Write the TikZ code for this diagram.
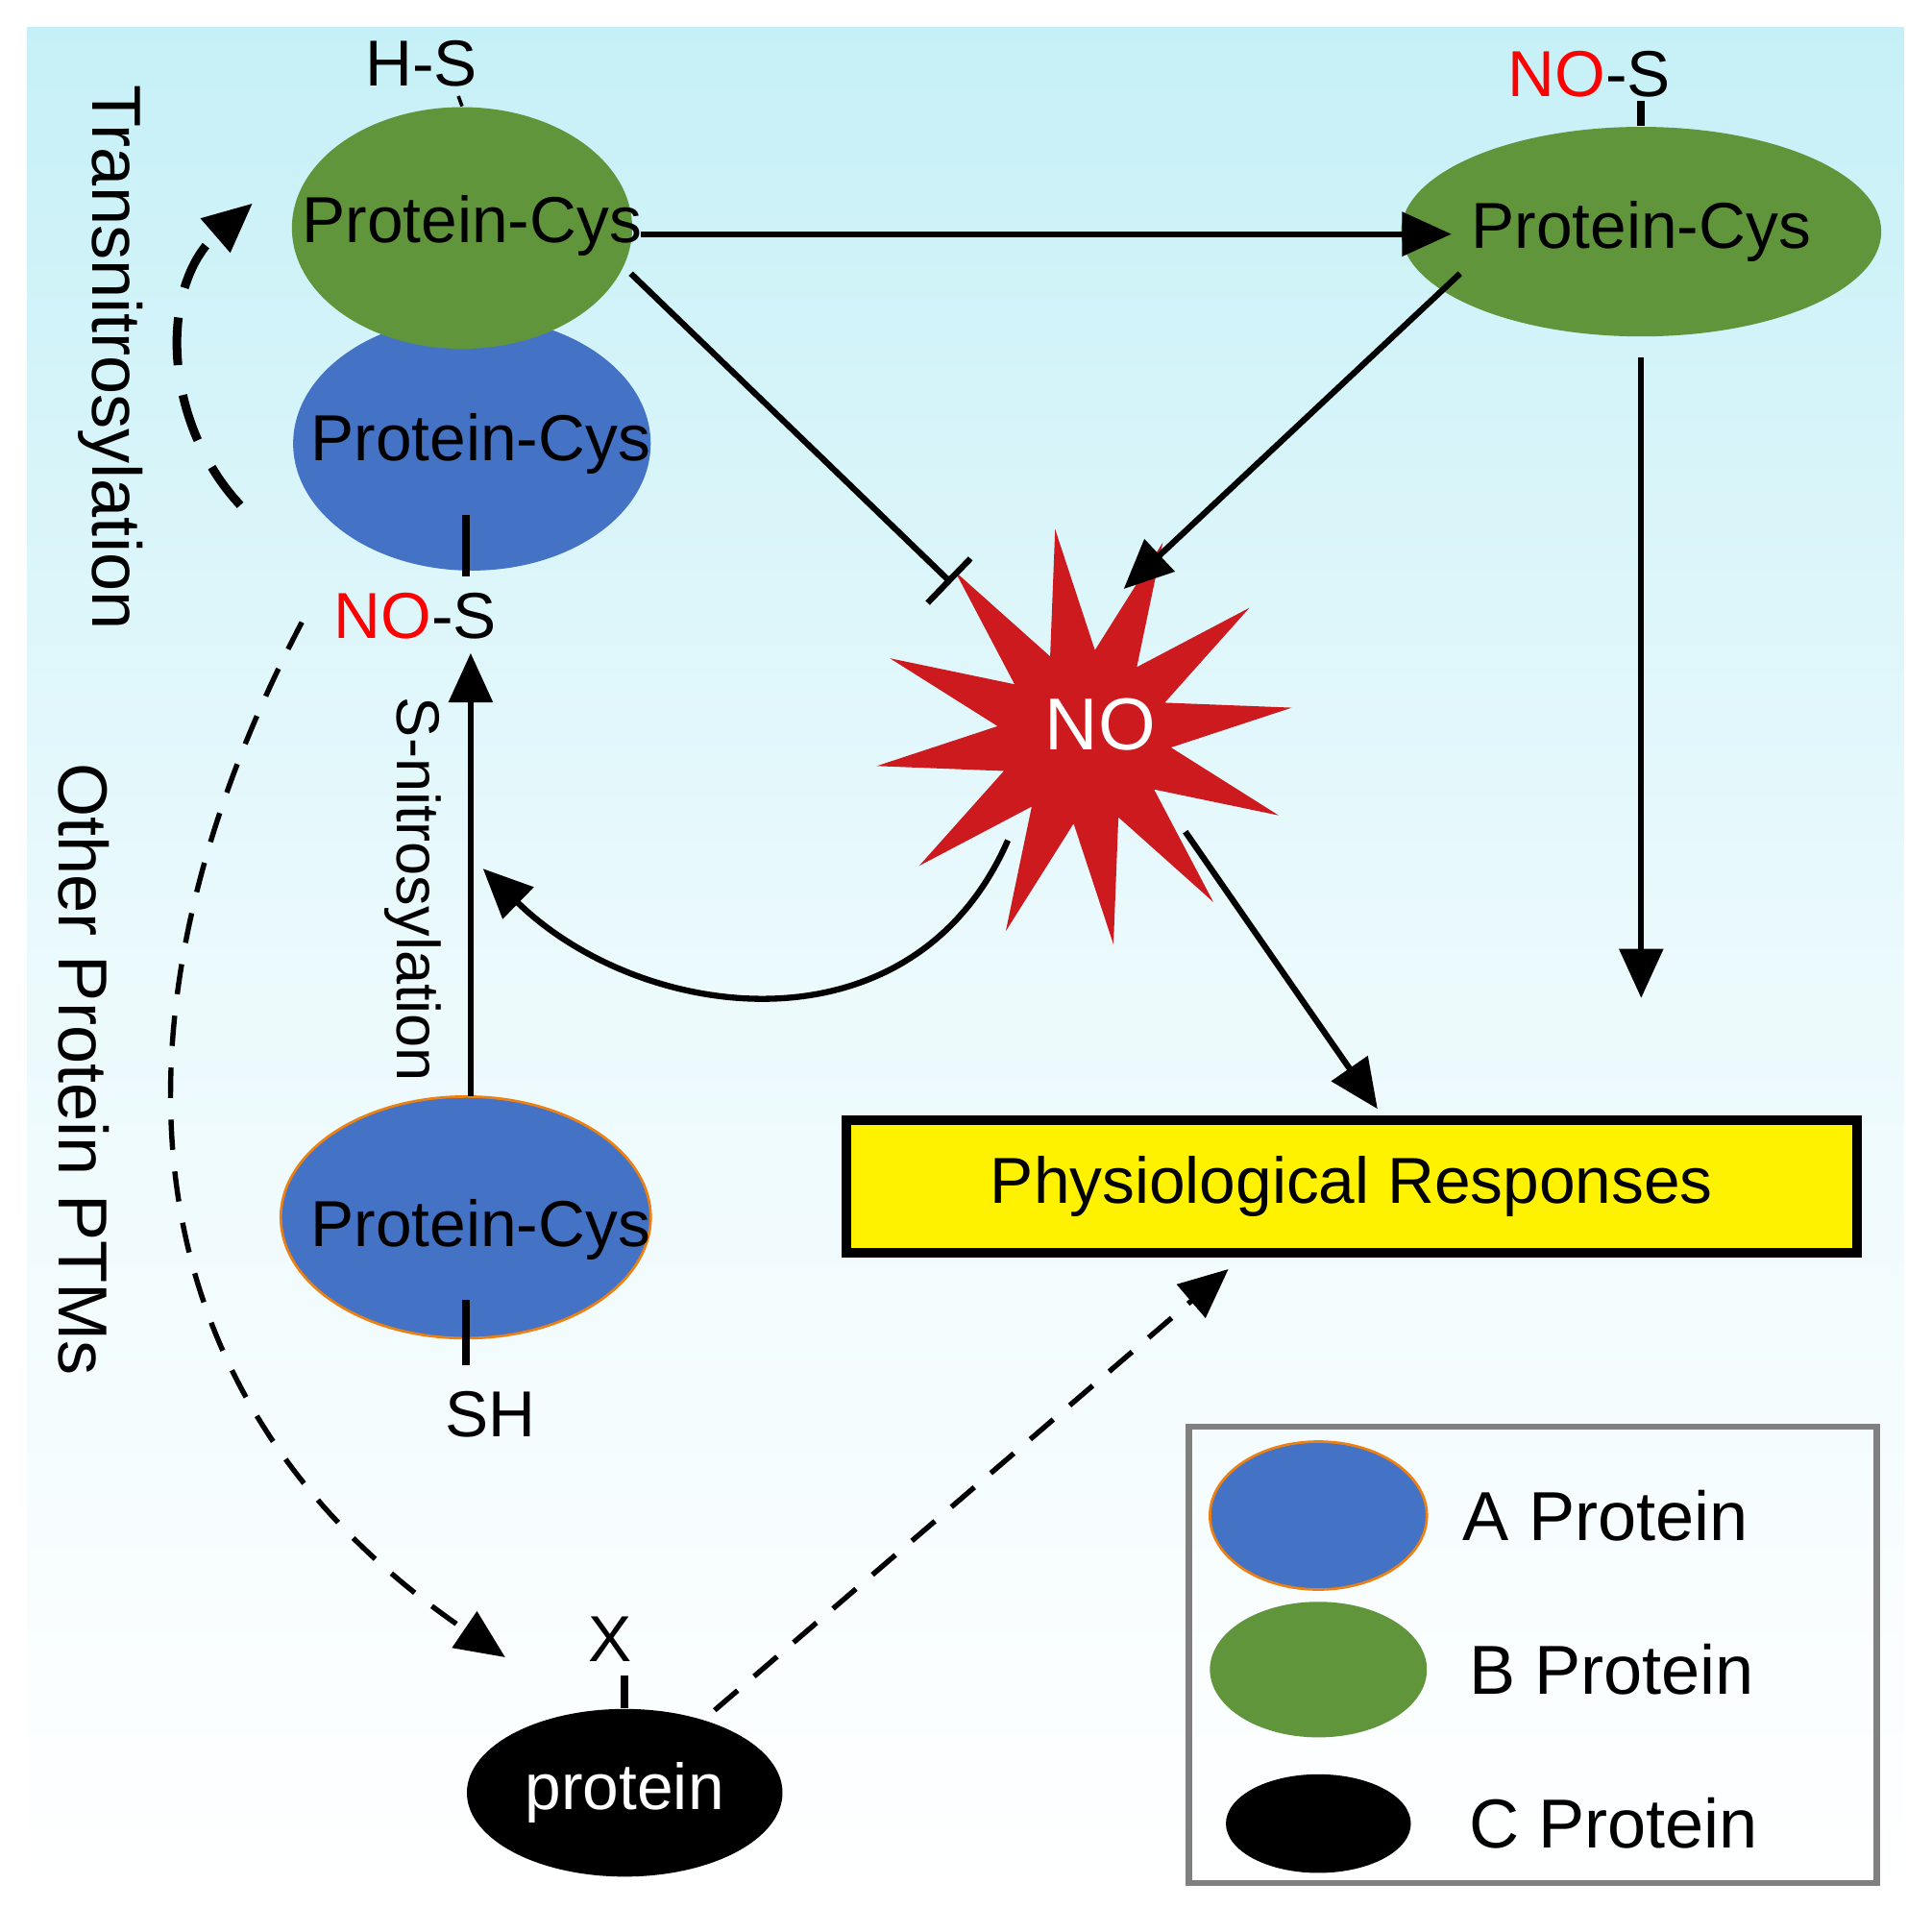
\documentclass[tikz,border=0pt]{standalone}
\usepackage{fontspec}
\setmainfont{Liberation Sans}
\usetikzlibrary{arrows.meta,shapes.geometric,calc}
\definecolor{pgreen}{HTML}{61953B}
\definecolor{pblue}{HTML}{4472C4}
\definecolor{nored}{HTML}{CC1A1F}
\definecolor{bgcyan}{HTML}{C6F0F7}
\begin{document}
\begin{tikzpicture}[x=0.01cm,y=-0.01cm,
  every node/.style={font=\fontsize{15}{18}\selectfont},
  prot/.style={ellipse, inner sep=0pt},
  arr/.style={-{Triangle[length=4mm,width=3.5mm]}, line width=1.4pt},
  dsh/.style={-{Triangle[length=4mm,width=3.5mm]}, line width=1.2pt, dash pattern=on 7pt off 5pt},
  tick/.style={line width=1.8pt}
  ]
  % canvas and background
  \useasboundingbox (0,0) rectangle (1568,1548);
  \fill[white] (0,0) rectangle (1568,1548);
  \shade[top color=bgcyan, bottom color=white, middle color=bgcyan!35] (22,22) rectangle (1545,1540);

  % proteins
  \node[prot, fill=pblue, minimum width=2.9cm, minimum height=2.06cm] (b2) at (383,360) {};
  \node at (390,360) {Protein-Cys};
  \node[prot, fill=pgreen, minimum width=2.76cm, minimum height=1.96cm] (g1) at (375,185) {};
  \node at (383,183) {Protein-Cys};
  \node[prot, fill=pgreen, minimum width=3.06cm, minimum height=1.7cm] (g2) at (1332,188) {Protein-Cys};
  \node[prot, fill=pblue, draw=orange!70!brown, line width=0.6pt, minimum width=3.0cm, minimum height=1.96cm] (b3) at (378,988) {};
  \node at (390,998) {Protein-Cys};
  \node[prot, fill=black, text=white, minimum width=2.56cm, minimum height=1.36cm] (c1) at (507,1455) {protein};

  % side groups
  \node (hs) at (342,52) {H-S};
  \draw[line width=0.8pt] (372,78) -- (g1.north);
  \node (nos1) at (1290,60) {\textcolor{red}{NO}-S};
  \draw[tick] (1332,82) -- (g2.north);
  \draw[tick] (378,418) -- (378,468);
  \node (nos2) at (337,500) {\textcolor{red}{NO}-S};
  \draw[tick] (378,1055) -- (378,1108);
  \node (sh) at (398,1148) {SH};
  \node (x) at (495,1330) {X};
  \draw[tick] (507,1360) -- (c1.north);

  % NO burst
  \node[star, star points=12, star point ratio=2.4, fill=nored, minimum size=3.4cm, rotate=8, inner sep=0pt] (no) at (880,598) {};
  \node[text=white, font=\fontsize{17}{20}\selectfont] at (893,588) {NO};

  % response box
  \node[draw, line width=2.2pt, fill=yellow, minimum width=8.2cm, minimum height=1.08cm] (resp) at (1097,963) {Physiological Responses};

  % connectors
  \coordinate (g1r) at (520,190);
  \coordinate (g2l) at (1178,190);
  \draw[arr] (g1r) -- (g2l);
  \coordinate (inhA) at (512,222);
  \coordinate (inhB) at (772,473);
  \draw[line width=1.4pt, -{Bar[width=5mm]}] (inhA) -- (inhB);
  \coordinate (g2a) at (1185,222);
  \coordinate (noT) at (912,478);
  \draw[arr] (g2a) -- (noT);
  \coordinate (g2b) at (1332,290);
  \coordinate (respT) at (1332,810);
  \draw[arr] (g2b) -- (respT);
  \coordinate (noL) at (818,682);
  \coordinate (snT) at (392,705);
  \draw[arr] (noL) .. controls (740,860) and (520,830) .. (snT);
  \coordinate (noB) at (962,675);
  \coordinate (respA) at (1118,900);
  \draw[arr] (noB) -- (respA);
  \coordinate (b3t) at (382,890);
  \coordinate (nosB) at (382,530);
  \draw[arr] (b3t) -- (nosB);
  \node[rotate=-90, font=\fontsize{14}{17}\selectfont] (snl) at (335,722) {S-nitrosylation};
  \coordinate (cX) at (580,1388);
  \coordinate (respB) at (997,1030);
  \draw[dsh] (cX) -- (respB);
  \coordinate (nosL) at (245,505);
  \coordinate (xL) at (410,1345);
  \draw[dsh] (nosL) .. controls (90,800) and (80,1120) .. (xL);
  \coordinate (trA) at (195,410);
  \coordinate (trB) at (205,165);
  \draw[-{Triangle[length=4mm,width=3.5mm]}, line width=2pt, dash pattern=on 11pt off 7pt] (trA) .. controls (130,340) and (130,230) .. (trB);
  \node[rotate=-90, font=\fontsize{16}{19}\selectfont] (trl) at (90,290) {Transnitrosylation};
  \node[rotate=-90, font=\fontsize{16}{19}\selectfont] (opl) at (68,868) {Other Protein PTMs};

  % legend
  \node[draw=gray, line width=1.4pt, minimum width=5.58cm, minimum height=3.7cm] (leg) at (1244,1343) {};
  \node[prot, fill=pblue, draw=orange!70!brown, line width=0.6pt, minimum width=1.76cm, minimum height=1.2cm] (la) at (1070,1230) {};
  \node[prot, fill=pgreen, minimum width=1.76cm, minimum height=1.1cm] (lb) at (1070,1355) {};
  \node[prot, fill=black, minimum width=1.5cm, minimum height=0.8cm] (lc) at (1070,1480) {};
  \node[anchor=west, font=\fontsize{16}{19}\selectfont] (ta) at (1175,1230) {A Protein};
  \node[anchor=west, font=\fontsize{16}{19}\selectfont] (tb) at (1180,1355) {B Protein};
  \node[anchor=west, font=\fontsize{16}{19}\selectfont] (tc) at (1180,1480) {C Protein};
\end{tikzpicture}
\end{document}
